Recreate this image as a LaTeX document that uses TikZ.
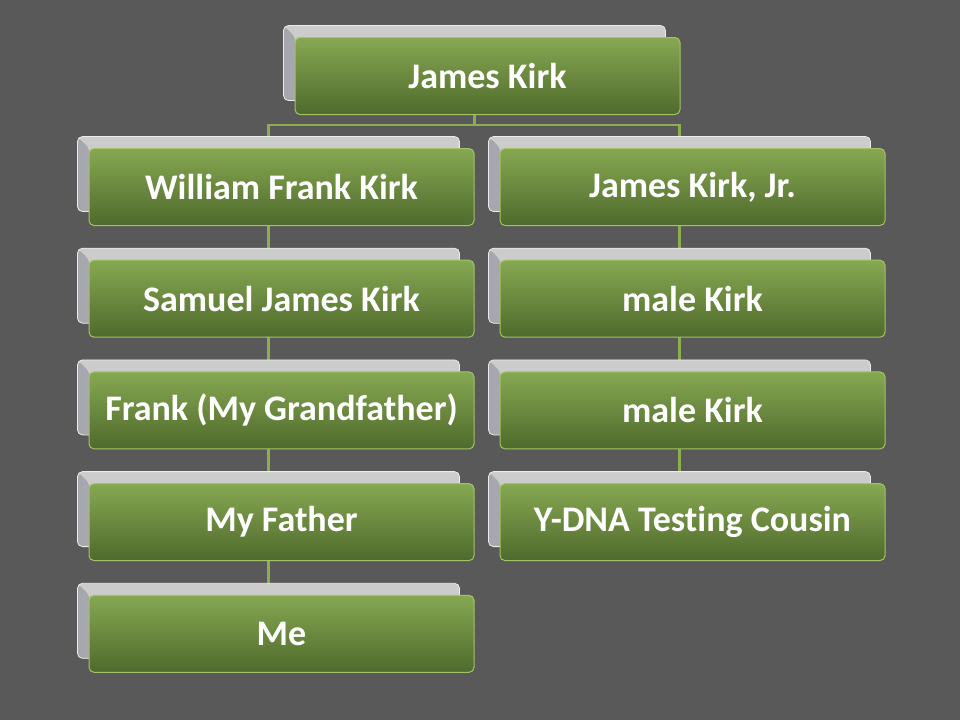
\documentclass[tikz,border=0pt]{standalone}
\usepackage{fontspec}
\setmainfont[Ligatures={NoCommon}]{Carlito}
\usetikzlibrary{backgrounds}
\definecolor{bg}{HTML}{595959}
\definecolor{gtop}{HTML}{86A852}
\definecolor{gbot}{HTML}{4F6A2C}
\definecolor{gborder}{HTML}{A2C466}
\definecolor{conn}{HTML}{8DAD4E}
\definecolor{backfill}{HTML}{CCCCCC}
\definecolor{bevA}{HTML}{A6A6AE}
\definecolor{bevB}{HTML}{D4D4D8}
\tikzset{
  greenbox/.style={rectangle, rounded corners=5pt, minimum width=385pt, minimum height=77pt,
    top color=gtop, bottom color=gbot, draw=gborder, line width=1pt, text=white, inner sep=0pt,
    font=\fontsize{36}{40}\selectfont\bfseries},
  backbox/.style={rectangle, rounded corners=5pt, minimum width=382pt, minimum height=75pt,
    fill=backfill, draw=white!85!gray, line width=0.8pt, inner sep=0pt,
    path picture={\shade[left color=bevA, right color=bevB]
      (path picture bounding box.north west) -- ++(12,12) -- ++(0,70) -- ++(-12,0) -- cycle;}},
  link/.style={draw=conn, line width=2.5pt}
}
\begin{document}
\begin{tikzpicture}[x=1pt,y=-1pt]
\useasboundingbox (0,0) rectangle (960,720);
\coordinate (bus) at (0,125);
% top
\node[backbox] (topb) at (474.5,63) {};
\node[greenbox] (top) at (487.5,76) {James Kirk};
% left column
\node[backbox] (l1b) at (268.5,174) {};
\node[greenbox] (l1) at (281.5,187) {William Frank Kirk};
\node[backbox] (l2b) at (268.5,285.7) {};
\node[greenbox] (l2) at (281.5,298.7) {Samuel James Kirk};
\node[backbox] (l3b) at (268.5,397.4) {};
\node[greenbox] (l3) at (281.5,410.4) {Frank (My Grandfather)};
\node[backbox] (l4b) at (268.5,509.1) {};
\node[greenbox] (l4) at (281.5,522.1) {My Father};
\node[backbox] (l5b) at (268.5,620.8) {};
\node[greenbox] (l5) at (281.5,633.8) {Me};
% right column
\node[backbox] (r1b) at (679.5,174) {};
\node[greenbox] (r1) at (692.5,187) {James Kirk, Jr.};
\node[backbox] (r2b) at (679.5,285.7) {};
\node[greenbox] (r2) at (692.5,298.7) {male Kirk};
\node[backbox] (r3b) at (679.5,397.4) {};
\node[greenbox] (r3) at (692.5,410.4) {male Kirk};
\node[backbox] (r4b) at (679.5,509.1) {};
\node[greenbox] (r4) at (692.5,522.1) {Y-DNA Testing Cousin};
\begin{scope}[on background layer]
\fill[bg] (0,0) rectangle (960,720);
\draw[link] (topb.center) -- (topb.center |- bus) -| (l1b.center);
\draw[link] (topb.center |- bus) -| (r1b.center);
\draw[link] (l1b.center) -- (l2b.center);
\draw[link] (l2b.center) -- (l3b.center);
\draw[link] (l3b.center) -- (l4b.center);
\draw[link] (l4b.center) -- (l5b.center);
\draw[link] (r1b.center) -- (r2b.center);
\draw[link] (r2b.center) -- (r3b.center);
\draw[link] (r3b.center) -- (r4b.center);
\end{scope}
\end{tikzpicture}
\end{document}
